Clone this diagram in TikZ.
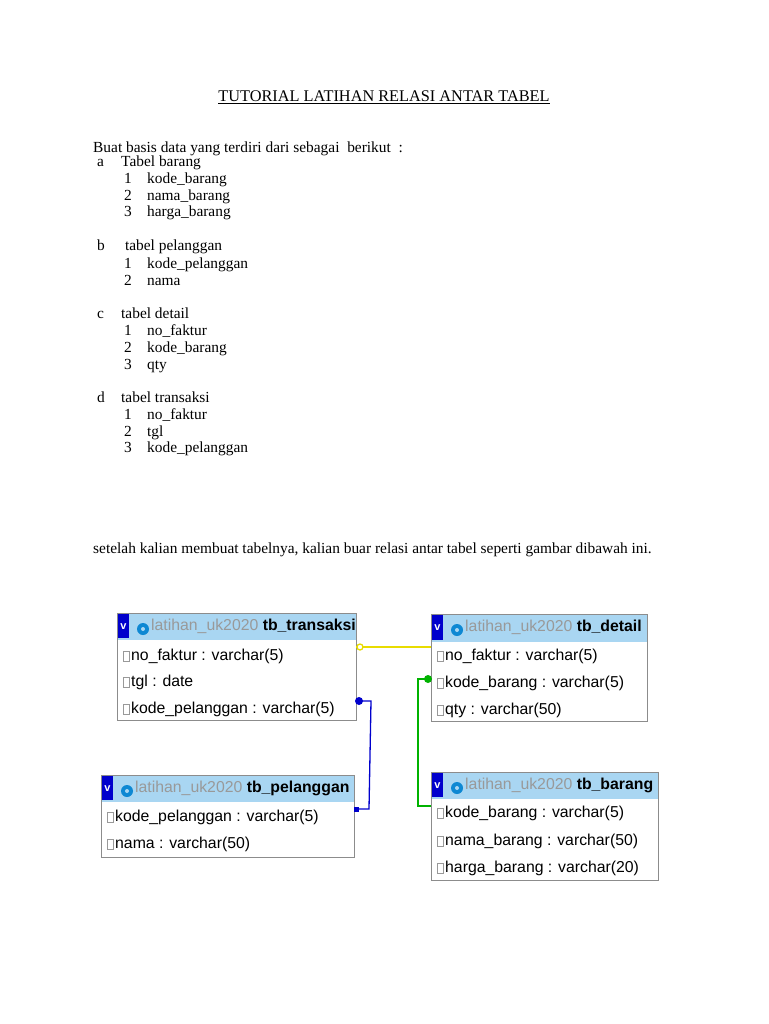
\documentclass[tikz,border=0pt]{standalone}
\usepackage{fontspec}
\setmainfont{Liberation Serif}
\newfontfamily\tabfont{Liberation Sans}
\definecolor{hdrc}{HTML}{A9D6F2}
\begin{document}
\begin{tikzpicture}[x=1pt,y=-1pt,
  txt/.style={anchor=base west,inner sep=0pt,font=\fontsize{15.4}{16}\selectfont},
  row/.style={anchor=base west,inner sep=0pt,font=\tabfont\fontsize{15.8}{16}\selectfont},
  tbox/.style={draw=black!45,fill=white,line width=1pt},
  hdr/.style={fill=hdrc},
  fk/.style={line width=1.3pt}]
\useasboundingbox (0,0) rectangle (768,1024);
\node[anchor=base,inner sep=0pt,font=\fontsize{16.3}{16}\selectfont] (t) at (384,102) {\underline{TUTORIAL LATIHAN RELASI ANTAR TABEL}};
\node[txt] (l0) at (93,153) {Buat basis data yang terdiri dari sebagai\ \ berikut\ \ :};
\foreach \y/\a/\b in {167/a/Tabel barang, 251/b/{\ tabel pelanggan}, 318/c/tabel detail, 402/d/tabel transaksi}
  {\node[txt] at (97,\y) {\a}; \node[txt] at (121,\y) {\b};}
\foreach \y/\n/\s in {184/1/kode\_barang,201/2/nama\_barang,217/3/harga\_barang,
  268/1/kode\_pelanggan,285/2/nama,
  335/1/no\_faktur,352/2/kode\_barang,369/3/qty,
  419/1/no\_faktur,436/2/tgl,452/3/kode\_pelanggan}
  {\node[txt] at (124,\y) {\n}; \node[txt] at (147,\y) {\s};}
\node[txt] (l1) at (93,553) {setelah kalian membuat tabelnya, kalian buar relasi antar tabel seperti gambar dibawah ini.};
\newcommand{\mytable}[7]{%
  \draw[tbox] (#1,#2) rectangle (#3,#4);
  \fill[hdr] (#1+0.5,#2+0.5) rectangle (#3-0.5,#2+#6);
  \fill[blue!80!black] (#1+1,#2+1) rectangle (#1+12,#2+#6-2);
  \node[anchor=center,inner sep=0pt,text=white,font=\tabfont\bfseries\fontsize{11}{11}\selectfont] at (#1+6.5,#2+14) {v};
  \fill[cyan!70!blue] (#1+26,#2+16) circle (6);
  \fill[hdrc] (#1+26,#2+16) circle (2);
  \node[row,text=black!40] at (#1+34,#2+17) {latihan\_uk2020 {\color{black}\bfseries #5}};
  #7}
\newcommand{\myrow}[3]{\draw[black!40,line width=0.6pt] (#1+6,#2-9) rectangle (#1+12,#2+1); \node[row] at (#1+14,#2) {#3};}
\mytable{117}{613}{356}{720}{tb\_transaksi}{27}{\myrow{117}{660}{no\_faktur : varchar(5)}\myrow{117}{686}{tgl : date}\myrow{117}{713}{kode\_pelanggan : varchar(5)}}
\mytable{431}{614}{647}{721}{tb\_detail}{28}{\myrow{431}{660}{no\_faktur : varchar(5)}\myrow{431}{687}{kode\_barang : varchar(5)}\myrow{431}{714}{qty : varchar(50)}}
\mytable{101}{775}{354}{857}{tb\_pelanggan}{27}{\myrow{101}{821}{kode\_pelanggan : varchar(5)}\myrow{101}{848}{nama : varchar(50)}}
\mytable{431}{772}{658}{880}{tb\_barang}{27}{\myrow{431}{817}{kode\_barang : varchar(5)}\myrow{431}{845}{nama\_barang : varchar(50)}\myrow{431}{872}{harga\_barang : varchar(20)}}
\coordinate (a1) at (356,647); \coordinate (a2) at (431,647);
\draw[fk,yellow!80!olive] (a1) -- (a2);
\draw[fk,yellow!80!olive,fill=white] (360,647) circle (3);
\coordinate (b1) at (356,701); \coordinate (b2) at (354,809);
\draw[fk,blue!80!black] (b1) -- (371,701) -- (369,809) -- (b2);
\fill[blue!80!black] (359,701) circle (4);
\fill[blue!80!black] (354,806.5) rectangle (359,811.5);
\coordinate (c1) at (431,679); \coordinate (c2) at (431,806);
\draw[fk,green!70!black] (c1) -- (418,679) -- (418,806) -- (c2);
\fill[green!70!black] (428,679) circle (4);
\end{tikzpicture}
\end{document}
